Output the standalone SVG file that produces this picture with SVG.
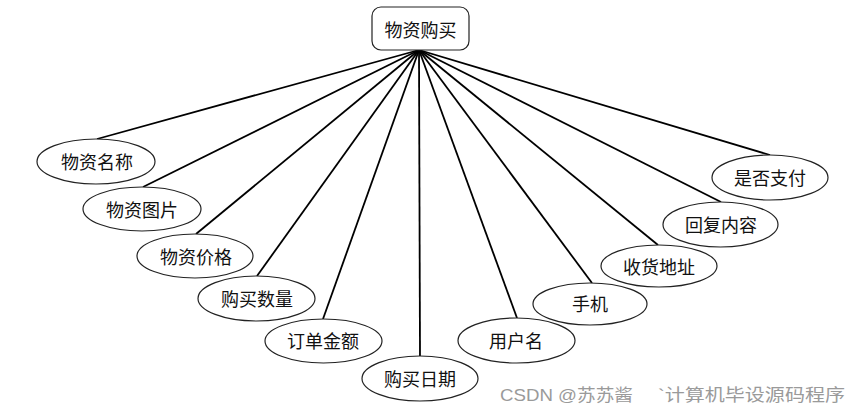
<svg xmlns="http://www.w3.org/2000/svg" width="859" height="413" viewBox="0 0 859 413">
<style>
.n{fill:#fff;stroke:#222;stroke-width:1.2}
.t{font-family:"Noto Sans CJK SC","Noto Sans",sans-serif;font-size:18px;fill:#111;text-anchor:middle;dominant-baseline:central}
.c line{stroke:#000;stroke-width:1.8}
.w{font-family:"Liberation Sans","Noto Sans CJK SC",sans-serif;font-size:17px;fill:#9a9a9a}
</style>
<rect width="859" height="413" fill="#fff"/>
<g class="c" id="connectors">
<line x1="419" y1="50" x2="97" y2="139"/>
<line x1="419" y1="50" x2="143" y2="187"/>
<line x1="419" y1="50" x2="196" y2="234"/>
<line x1="419" y1="50" x2="257" y2="276"/>
<line x1="419" y1="50" x2="323" y2="319"/>
<line x1="419" y1="50" x2="420" y2="356"/>
<line x1="419" y1="50" x2="517" y2="318"/>
<line x1="419" y1="50" x2="592" y2="283"/>
<line x1="419" y1="50" x2="658" y2="245"/>
<line x1="419" y1="50" x2="721" y2="202"/>
<line x1="419" y1="50" x2="770" y2="155"/>
</g>
<g id="root"><rect class="n" x="372" y="7" width="97" height="43" rx="9"/><text class="t" x="420.5" y="29">物资购买</text></g>
<g id="n1"><ellipse class="n" cx="96" cy="161.5" rx="59" ry="22.5"/><text class="t" x="97" y="161">物资名称</text></g>
<g id="n2"><ellipse class="n" cx="142" cy="209" rx="59" ry="22"/><text class="t" x="142" y="209">物资图片</text></g>
<g id="n3"><ellipse class="n" cx="195" cy="256" rx="58" ry="22"/><text class="t" x="196" y="256">物资价格</text></g>
<g id="n4"><ellipse class="n" cx="256.5" cy="298.5" rx="58.5" ry="22.5"/><text class="t" x="257" y="298">购买数量</text></g>
<g id="n5"><ellipse class="n" cx="323.5" cy="341" rx="58.5" ry="22"/><text class="t" x="323" y="340">订单金额</text></g>
<g id="n6"><ellipse class="n" cx="420" cy="378.5" rx="58" ry="22.5"/><text class="t" x="420" y="378">购买日期</text></g>
<g id="n7"><ellipse class="n" cx="516.5" cy="340.5" rx="58.5" ry="22.5"/><text class="t" x="516" y="340">用户名</text></g>
<g id="n8"><ellipse class="n" cx="590" cy="304" rx="57" ry="21"/><text class="t" x="590" y="303">手机</text></g>
<g id="n9"><ellipse class="n" cx="659" cy="266" rx="58" ry="21"/><text class="t" x="659" y="266">收货地址</text></g>
<g id="n10"><ellipse class="n" cx="720.5" cy="224.5" rx="57.5" ry="22.5"/><text class="t" x="721" y="224">回复内容</text></g>
<g id="n11"><ellipse class="n" cx="770" cy="177.5" rx="58" ry="22.5"/><text class="t" x="770" y="177">是否支付</text></g>
<text class="w" x="500" y="401" textLength="133" lengthAdjust="spacingAndGlyphs">CSDN @苏苏酱</text>
<text class="w" x="658" y="401" textLength="187" lengthAdjust="spacingAndGlyphs">`计算机毕设源码程序</text>
</svg>
